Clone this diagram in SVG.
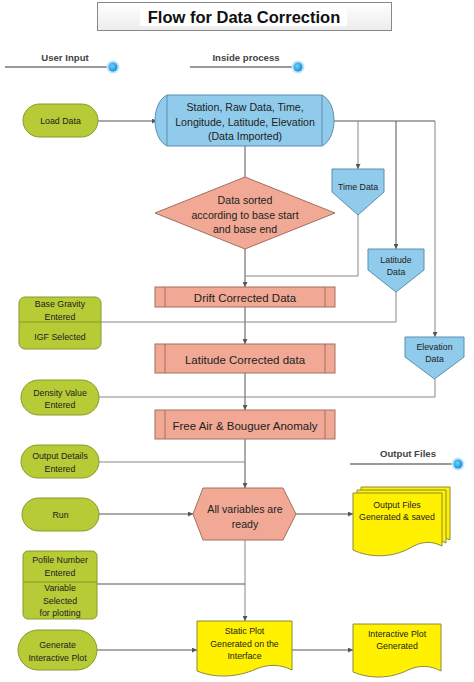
<svg xmlns="http://www.w3.org/2000/svg" width="474" height="682" viewBox="0 0 474 682">
<defs>
<marker id="arr" viewBox="0 0 6 6" refX="6" refY="3" markerWidth="5" markerHeight="5" orient="auto" markerUnits="userSpaceOnUse">
<path d="M0,0 L6,3 L0,6 Z" fill="#555"/>
</marker>
<radialGradient id="dot" cx="0.4" cy="0.4" r="0.6">
<stop offset="0" stop-color="#6fd0ff"/>
<stop offset="1" stop-color="#1a8fd8"/>
</radialGradient>
<linearGradient id="tg" x1="0" y1="0" x2="0" y2="1">
<stop offset="0" stop-color="#ffffff"/>
<stop offset="1" stop-color="#ececec"/>
</linearGradient>
</defs>
<style>
text{font-family:"Liberation Sans",Arial,sans-serif;fill:#222;text-anchor:middle;dominant-baseline:central}
.g{fill:#b6cb35;stroke:#879a2a;stroke-width:1}
.b{fill:#91cbeb;stroke:#5b8fb0;stroke-width:1}
.s{fill:#f1a995;stroke:#a0705f;stroke-width:1}
.y{fill:#fff100;stroke:#8c8a3a;stroke-width:1}
.sm{font-size:8.8px}
.md{font-size:10.6px}
.lg{font-size:11.5px}
.c{fill:none;stroke:#555;stroke-width:1}
.lc{fill:none;stroke:#888;stroke-width:1}
.leg{font-size:9.6px;font-weight:bold;fill:#444}
</style>
<rect width="474" height="682" fill="#ffffff"/>

<g id="title">
<rect x="97.5" y="2.5" width="294" height="28" fill="url(#tg)" stroke="#888"/>
<rect x="140" y="8" width="207" height="18" fill="#fff"/>
<text x="244" y="17" style="font-size:16.5px;font-weight:bold;fill:#111">Flow for Data Correction</text>
</g>

<g id="legend-user">
<line x1="5" y1="67" x2="110" y2="67" stroke="#333"/>
<circle cx="113" cy="67" r="6.5" fill="#bfe6fa"/>
<circle cx="113" cy="67" r="4.5" fill="url(#dot)"/>
<text x="65" y="57" class="leg">User Input</text>
</g>
<g id="legend-inside">
<line x1="190" y1="67" x2="295" y2="67" stroke="#333"/>
<circle cx="298" cy="67" r="6.5" fill="#bfe6fa"/>
<circle cx="298" cy="67" r="4.5" fill="url(#dot)"/>
<text x="246" y="57" class="leg">Inside process</text>
</g>
<g id="legend-output">
<line x1="350" y1="464" x2="455" y2="464" stroke="#333"/>
<circle cx="458" cy="464" r="6.5" fill="#bfe6fa"/>
<circle cx="458" cy="464" r="4.5" fill="url(#dot)"/>
<text x="408" y="453" class="leg">Output Files</text>
</g>

<g id="connectors">
<line class="c" x1="98" y1="121" x2="157" y2="121" marker-end="url(#arr)"/>
<line class="c" x1="333" y1="121" x2="435" y2="121"/>
<line class="lc" x1="358" y1="121" x2="358" y2="169" marker-end="url(#arr)"/>
<line class="c" x1="396" y1="121" x2="396" y2="249" marker-end="url(#arr)"/>
<line class="lc" x1="435" y1="121" x2="435" y2="337" marker-end="url(#arr)"/>
<line class="c" x1="245" y1="146" x2="245" y2="177"/>
<line class="c" x1="245" y1="249" x2="245" y2="287" marker-end="url(#arr)"/>
<polyline class="lc" points="358,215 358,276 245,276"/>
<line class="c" x1="245" y1="307" x2="245" y2="344" marker-end="url(#arr)"/>
<polyline class="lc" points="396,292 396,322 101,322"/>
<line class="c" x1="245" y1="373" x2="245" y2="410" marker-end="url(#arr)"/>
<polyline class="lc" points="435,379 435,397 99,397"/>
<line class="c" x1="245" y1="439" x2="245" y2="488" marker-end="url(#arr)"/>
<line class="lc" x1="99" y1="462" x2="245" y2="462"/>
<line class="c" x1="99" y1="514" x2="193" y2="514" marker-end="url(#arr)"/>
<line class="c" x1="296" y1="514" x2="353" y2="514" marker-end="url(#arr)"/>
<line class="lc" x1="245" y1="540" x2="245" y2="621" marker-end="url(#arr)"/>
<line class="c" x1="97" y1="584" x2="245" y2="584"/>
<line class="c" x1="97" y1="650" x2="197" y2="650" marker-end="url(#arr)"/>
<line class="c" x1="292" y1="650" x2="353" y2="650" marker-end="url(#arr)"/>
</g>

<g id="load-data">
<rect class="g" x="23" y="104" width="75" height="33" rx="16.5"/>
<text x="60.5" y="121" class="sm">Load Data</text>
</g>

<g id="data-imported">
<path class="b" d="M167,95 H322 C338,103 338,138 322,146 H167 C151,138 151,103 167,95 Z"/>
<line x1="167" y1="95" x2="167" y2="146" stroke="#5b8fb0"/>
<line x1="322" y1="95" x2="322" y2="146" stroke="#5b8fb0"/>
<text x="245" y="107" class="md">Station, Raw Data, Time,</text>
<text x="245" y="121.5" class="md">Longitude, Latitude, Elevation</text>
<text x="245" y="136" class="md">(Data Imported)</text>
</g>

<g id="time-data">
<polygon class="b" points="332,169 384,169 384,192 358,215 332,192"/>
<text x="358" y="187" class="sm">Time Data</text>
</g>

<g id="latitude-data">
<polygon class="b" points="368,249 424,249 424,270 396,292 368,270"/>
<text x="396" y="260" class="sm">Latitude</text>
<text x="396" y="272" class="sm">Data</text>
</g>

<g id="elevation-data">
<polygon class="b" points="405,337 464,337 464,357 434.5,379 405,357"/>
<text x="434.5" y="347" class="sm">Elevation</text>
<text x="434.5" y="359" class="sm">Data</text>
</g>

<g id="data-sorted">
<polygon class="s" points="245,177 335,213 245,249 155,213"/>
<text x="245" y="200" class="md">Data sorted</text>
<text x="245" y="214.5" class="md">according to base start</text>
<text x="245" y="229" class="md">and base end</text>
</g>

<g id="drift-corrected">
<rect class="s" x="155" y="287" width="180" height="20"/>
<line x1="165" y1="287" x2="165" y2="307" stroke="#a0705f"/>
<line x1="325" y1="287" x2="325" y2="307" stroke="#a0705f"/>
<text x="245" y="298" class="lg">Drift Corrected Data</text>
</g>

<g id="base-gravity">
<rect class="g" x="19" y="297" width="82" height="52" rx="6"/>
<line x1="19" y1="322" x2="101" y2="322" stroke="#879a2a"/>
<text x="60" y="304" class="sm">Base Gravity</text>
<text x="60" y="316.5" class="sm">Entered</text>
<text x="60" y="336.5" class="sm">IGF Selected</text>
</g>

<g id="latitude-corrected">
<rect class="s" x="155" y="344" width="180" height="29"/>
<line x1="165" y1="344" x2="165" y2="373" stroke="#a0705f"/>
<line x1="325" y1="344" x2="325" y2="373" stroke="#a0705f"/>
<text x="245" y="360" class="lg">Latitude Corrected data</text>
</g>

<g id="density-value">
<rect class="g" x="21" y="380" width="78" height="35" rx="17.5"/>
<text x="60" y="392.5" class="sm">Density Value</text>
<text x="60" y="405" class="sm">Entered</text>
</g>

<g id="free-air">
<rect class="s" x="155" y="410" width="180" height="29"/>
<line x1="165" y1="410" x2="165" y2="439" stroke="#a0705f"/>
<line x1="325" y1="410" x2="325" y2="439" stroke="#a0705f"/>
<text x="245" y="426" class="lg">Free Air &amp; Bouguer Anomaly</text>
</g>

<g id="output-details">
<rect class="g" x="21" y="445" width="78" height="33" rx="16.5"/>
<text x="60" y="456" class="sm">Output Details</text>
<text x="60" y="469" class="sm">Entered</text>
</g>

<g id="run">
<rect class="g" x="22" y="498" width="77" height="33" rx="16.5"/>
<text x="60.5" y="515" class="sm">Run</text>
</g>

<g id="all-variables">
<polygon class="s" points="193,514 203,488 283,488 296,514 283,540 203,540"/>
<text x="245" y="509" class="md">All variables are</text>
<text x="245" y="523.5" class="md">ready</text>
</g>

<g id="output-files">
<path class="y" d="M361,487 H450 V540 C438,534 428,536 418,542 C400,552 378,552 361,544 Z"/>
<path class="y" d="M357,490 H446 V543 C434,537 424,539 414,545 C396,555 374,555 357,547 Z"/>
<path class="y" d="M353,493 H442 V546 C430,540 420,542 410,548 C392,558 370,558 353,550 Z"/>
<text x="397" y="505" class="sm">Output Files</text>
<text x="397" y="517" class="sm">Generated &amp; saved</text>
</g>

<g id="profile-number">
<rect class="g" x="23" y="551" width="74" height="68" rx="5"/>
<line x1="23" y1="582" x2="97" y2="582" stroke="#879a2a"/>
<text x="60" y="560" class="sm">Pofile Number</text>
<text x="60" y="573" class="sm">Entered</text>
<text x="60" y="588" class="sm">Variable</text>
<text x="60" y="600.5" class="sm">Selected</text>
<text x="60" y="613" class="sm">for plotting</text>
</g>

<g id="generate-interactive">
<rect class="g" x="18" y="630" width="79" height="40" rx="20"/>
<text x="57.5" y="645" class="sm">Generate</text>
<text x="57.5" y="657.5" class="sm">Interactive Plot</text>
</g>

<g id="static-plot">
<path class="y" d="M197,621 H292 V670 C280,664 268,664 256,669 C236,678 214,678 197,671 Z"/>
<text x="244.5" y="631" class="sm">Static Plot</text>
<text x="244.5" y="643.5" class="sm">Generated on the</text>
<text x="244.5" y="656" class="sm">Interface</text>
</g>

<g id="interactive-plot">
<path class="y" d="M353,624 H441 V671 C430,665 419,665 408,670 C390,679 370,679 353,672 Z"/>
<text x="397" y="634" class="sm">Interactive Plot</text>
<text x="397" y="646" class="sm">Generated</text>
</g>
</svg>
